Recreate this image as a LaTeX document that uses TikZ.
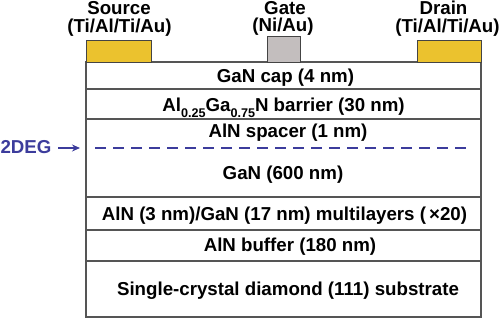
\documentclass[tikz,border=0pt]{standalone}
\usepackage{fontspec}
\setmainfont{Liberation Sans}
\usetikzlibrary{arrows.meta}
\definecolor{gold}{HTML}{EBC22E}
\definecolor{gatecol}{HTML}{C3BEBE}
\definecolor{egblue}{HTML}{3C3C9C}
\definecolor{edge}{HTML}{555555}
\newcommand{\lsub}[1]{\raisebox{-6pt}{\fontsize{12.6}{14}\selectfont #1}}

\begin{document}
\begin{tikzpicture}[x=1pt,y=-1pt,
  layer/.style={draw=edge, line width=1.2pt},
  lbl/.style={anchor=base, inner sep=0pt,
    font=\fontsize{18.7}{22}\selectfont\bfseries},
  contact/.style={rectangle, draw=edge!80!black, line width=0.9pt,
    inner sep=0pt},
  twodeg/.style={color=egblue, line width=2.6pt}
]
\useasboundingbox (0,0) rectangle (500,319);
% layer stack
\foreach \ya/\yb in {62/89,89/119,119/197,197/230,230/261,261/317}
  {\draw[layer] (86,\ya) rectangle (481,\yb);}
% contacts
\node[contact, fill=gold, minimum width=65pt, minimum height=22pt] (src) at (118.5,51) {};
\node[contact, fill=gatecol, minimum width=33pt, minimum height=26pt] (gate) at (283.5,49) {};
\node[contact, fill=gold, minimum width=64pt, minimum height=22pt] (drn) at (449,51) {};
\node[lbl] (srcname) at (119,14) {Source};
\node[lbl] (srcmetal) at (119.5,32) {(Ti/Al/Ti/Au)};
\node[lbl] (gatename) at (285,14) {Gate};
\node[lbl] (gatemetal) at (283,31) {(Ni/Au)};
\node[lbl] (drnname) at (443.5,14) {Drain};
\node[lbl] (drnmetal) at (447.5,32) {(Ti/Al/Ti/Au)};
% layer names
\node[lbl] (cap) at (285.5,82) {GaN cap (4 nm)};
\node[lbl] (barrier) at (283.5,111) {Al\lsub{0.25}Ga\lsub{0.75}N barrier (30 nm)};
\node[lbl] (spacer) at (288,137.3) {AlN spacer (1 nm)};
\node[lbl] (gan) at (283,179.5) {GaN (600 nm)};
\node[lbl] (multi) at (284.5,220) {AlN (3 nm)/GaN (17 nm) multilayers (\,×20)};
\node[lbl] (buffer) at (290,251) {AlN buffer (180 nm)};
\node[lbl] (substrate) at (288,295) {Single-crystal diamond (111) substrate};
% 2DEG
\coordinate (dstart) at (95,148);
\coordinate (dend) at (472,148);
\coordinate (arrtip) at (80,148);
\node[lbl, text=egblue] (deg) at (26,153.3) {2DEG};
\draw[twodeg, dash pattern=on 11pt off 7pt] (dstart) -- (dend);
\draw[twodeg, line width=2pt, -{Stealth[length=8pt,width=7pt]}] ([xshift=6.5pt]deg.east |- arrtip) -- (arrtip);
\end{tikzpicture}
\end{document}
